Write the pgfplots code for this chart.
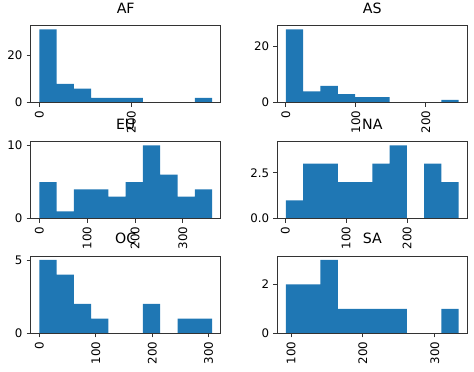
\documentclass[border=0pt]{standalone}
\usepackage{fontspec}
\setmainfont{DejaVu Sans}
\usepackage{pgfplots}
\pgfplotsset{compat=1.18}
\definecolor{c0}{HTML}{1F77B4}
\pgfplotsset{
  hstyle/.style={
    scale only axis, width=190pt, height=77pt, anchor=south west,
    ymin=0, axis on top,
    axis line style={black!80, line width=0.9pt},
    tick align=outside, major tick length=4pt,
    every tick/.style={black!80, line width=0.9pt},
    xtick pos=bottom, ytick pos=left,
    /pgf/number format/assume math mode=true,
    tick label style={font=\fontsize{11.8}{14}\selectfont, inner sep=0pt},
    xticklabel style={rotate=90, anchor=east, inner xsep=4pt},
    yticklabel style={anchor=east, inner xsep=4pt},
    scaled ticks=false,
    title style={at={(0.5,1)}, anchor=base, yshift=6.4pt, inner sep=0pt, font=\fontsize{14.2}{17}\selectfont},
  },
  hbar/.style={ybar interval, fill=c0, draw=none},
}
\begin{document}
\begin{tikzpicture}[x=1pt,y=1pt]
\useasboundingbox (0,0) rectangle (474,372);
% AF
\begin{axis}[hstyle, at={(30.7pt,269.3pt)}, title={AF},
  xmin=-18.8, xmax=394.8, ymax=32.55, xtick={0,200}, ytick={0,20}]
\addplot[hbar] coordinates {(0,31) (37.6,8) (75.2,6) (112.8,2) (150.4,2) (188,2) (225.6,0) (263.2,0) (300.8,0) (338.4,2) (376,2)};
\end{axis}
% AS
\begin{axis}[hstyle, at={(277.3pt,269.3pt)}, title={AS},
  xmin=-12.35, xmax=259.35, ymax=27.3, xtick={0,100,200}, ytick={0,20}]
\addplot[hbar] coordinates {(0,26) (24.7,4) (49.4,6) (74.1,3) (98.8,2) (123.5,2) (148.2,0) (172.9,0) (197.6,0) (222.3,1) (247,1)};
\end{axis}
% EU
\begin{axis}[hstyle, at={(30.7pt,153.3pt)}, title={EU},
  xmin=-18.05, xmax=379.05, ymax=10.5, xtick={0,100,200,300}, ytick={0,10}]
\addplot[hbar] coordinates {(0,5) (36.1,1) (72.2,4) (108.3,4) (144.4,3) (180.5,5) (216.6,10) (252.7,6) (288.8,3) (324.9,4) (361,4)};
\end{axis}
% NA
\begin{axis}[hstyle, at={(277.3pt,153.3pt)}, title={NA},
  xmin=-13.2, xmax=299.2, ymax=4.2, xtick={0,100,200}, ytick={0,2.5}, yticklabels={0.0,2.5}]
\addplot[hbar] coordinates {(1,1) (29.4,3) (57.8,3) (86.2,2) (114.6,2) (143,3) (171.4,4) (199.8,0) (228.2,3) (256.6,2) (285,2)};
\end{axis}
% OC
\begin{axis}[hstyle, at={(30.7pt,38.7pt)}, title={OC},
  xmin=-15.3, xmax=321.3, ymax=5.25, xtick={0,100,200,300}, ytick={0,5}]
\addplot[hbar] coordinates {(0,5) (30.6,4) (61.2,2) (91.8,1) (122.4,0) (153,0) (183.6,2) (214.2,0) (244.8,1) (275.4,1) (306,1)};
\end{axis}
% SA
\begin{axis}[hstyle, at={(277.3pt,38.7pt)}, title={SA},
  xmin=81, xmax=345, ymax=3.15, xtick={100,200,300}, ytick={0,2}]
\addplot[hbar] coordinates {(93,2) (117,2) (141,3) (165,1) (189,1) (213,1) (237,1) (261,0) (285,0) (309,1) (333,1)};
\end{axis}
\end{tikzpicture}
\end{document}
